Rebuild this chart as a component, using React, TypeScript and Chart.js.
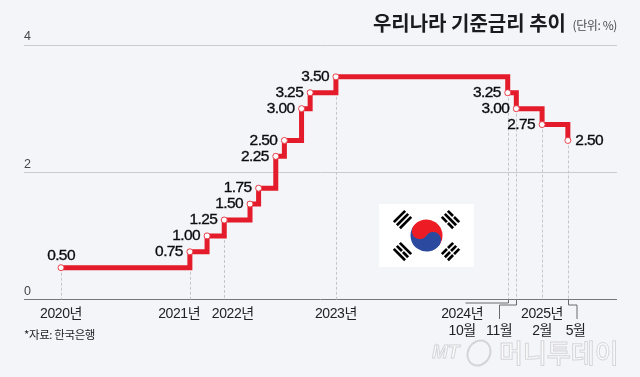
import React, { useEffect, useRef } from "react";
import { Chart, registerables } from "chart.js";

Chart.register(...registerables);

// x is the Bank of Korea rate-meeting number, which is how the picture spaces its points
const meetings = [0, 15, 17, 19, 22, 23, 25, 26, 28, 29, 32, 52, 53, 56, 59];
const rates = [0.5, 0.75, 1.0, 1.25, 1.5, 1.75, 2.25, 2.5, 3.0, 3.25, 3.5, 3.25, 3.0, 2.75, 2.5];
const guideMeetings = [0, 15, 19, 32, 52, 53, 56, 59];
const tickMeetings = [0, 13.75, 20, 32, 46.7, 51, 56, 59.9];
const tickLabels: (string | string[])[] = [
  "2020년", "2021년", "2022년", "2023년",
  ["2024년", "10월"], ["", "11월"], ["2025년", "2월"], ["", "5월"],
];
const yTicks = [0, 2, 4];
const titleText = "우리나라 기준금리 추이";
const unitText = "(단위: %)";
const sourceText = "*자료: 한국은행";
const brandLatin = "MT";
const brandText = "머니투데이";

const LATIN = '"Liberation Sans", "Noto Sans CJK KR", sans-serif';
const KR = '"Noto Sans CJK KR", sans-serif';
const BG = "#f4f5f9";
const RED = "#e31b2a";

function drawFlag(ctx: CanvasRenderingContext2D) {
  const cx = 426.5, cy = 235.5, r = 16;
  ctx.save();
  ctx.fillStyle = "#ffffff";
  ctx.fillRect(379, 204, 95, 63);
  ctx.translate(cx, cy);
  ctx.save();
  ctx.rotate(Math.atan2(2, 3));
  ctx.fillStyle = "#ed1c24";
  ctx.beginPath(); ctx.arc(0, 0, r, Math.PI, 0); ctx.fill();
  ctx.fillStyle = "#2b4a9f";
  ctx.beginPath(); ctx.arc(0, 0, r, 0, Math.PI); ctx.fill();
  ctx.fillStyle = "#ed1c24";
  ctx.beginPath(); ctx.arc(-r / 2, 0, r / 2, 0, Math.PI * 2); ctx.fill();
  ctx.fillStyle = "#2b4a9f";
  ctx.beginPath(); ctx.arc(r / 2, 0, r / 2, 0, Math.PI * 2); ctx.fill();
  ctx.restore();
  ctx.fillStyle = "#000000";
  const trigrams: [number, number, number, boolean[]][] = [
    [-24, -16, -Math.PI / 4, [false, false, false]],
    [24, -16, Math.PI / 4, [true, false, true]],
    [-24, 16, Math.PI / 4, [false, true, false]],
    [24, 16, -Math.PI / 4, [true, true, true]],
  ];
  trigrams.forEach(([dx, dy, angle, broken]) => {
    ctx.save();
    ctx.translate(dx, dy);
    ctx.rotate(angle);
    broken.forEach((b, i) => {
      const y = (i - 1) * 4.3 - 1.3;
      if (b) {
        ctx.fillRect(-8, y, 7.3, 2.7);
        ctx.fillRect(0.7, y, 7.3, 2.7);
      } else {
        ctx.fillRect(-8, y, 16, 2.7);
      }
    });
    ctx.restore();
  });
  ctx.restore();
}

const overlayPlugin = {
  id: "overlay",
  beforeDraw(chart: any) {
    chart.ctx.letterSpacing = "-0.4px";
  },
  beforeDatasetsDraw(chart: any) {
    const { ctx, scales } = chart;
    const { x, y } = scales;
    const axis = y.getPixelForValue(0);
    ctx.save();
    ctx.strokeStyle = "#c4c6cc";
    ctx.lineWidth = 1;
    ctx.setLineDash([3, 2]);
    guideMeetings.forEach((m) => {
      const i = meetings.indexOf(m);
      const px = Math.round(x.getPixelForValue(m)) + 0.5;
      ctx.beginPath();
      ctx.moveTo(px, y.getPixelForValue(rates[i]));
      ctx.lineTo(px, axis);
      ctx.stroke();
    });
    ctx.restore();
  },
  afterDraw(chart: any) {
    const { ctx, scales } = chart;
    const { x, y } = scales;
    const axis = y.getPixelForValue(0);

    // leader lines from the axis to the month labels
    ctx.save();
    ctx.strokeStyle = "#666a70";
    ctx.lineWidth = 1;
    const leader = (m: number, down: number, end: number, drop: number) => {
      const px = Math.round(x.getPixelForValue(m)) + 0.5;
      ctx.beginPath();
      ctx.moveTo(px, axis);
      ctx.lineTo(px, axis + down);
      ctx.lineTo(px + end, axis + down);
      if (drop) ctx.lineTo(px + end, axis + down + drop);
      ctx.stroke();
    };
    leader(52, 3.5, -43, 0);
    leader(53, 5.5, -17, 14);
    leader(59, 5.5, 8.5, 14);
    ctx.restore();

    // value labels
    ctx.save();
    ctx.font = `15.5px ${LATIN}`;
    ctx.letterSpacing = "-0.6px";
    ctx.fillStyle = "#0c0c10";
    ctx.strokeStyle = "#0c0c10";
    ctx.lineWidth = 0.35;
    ctx.textBaseline = "middle";
    meetings.forEach((m, i) => {
      const px = x.getPixelForValue(m);
      const py = y.getPixelForValue(rates[i]);
      const t = rates[i].toFixed(2);
      let tx = px - 7, ty = py;
      ctx.textAlign = "right";
      if (i === 0) { ctx.textAlign = "center"; tx = px; ty = py - 12; }
      if (i === meetings.length - 1) { ctx.textAlign = "left"; tx = px + 7.5; ty = py; }
      ctx.fillText(t, tx, ty);
      ctx.strokeText(t, tx, ty);
    });
    ctx.restore();

    // title, unit, source
    ctx.save();
    ctx.textBaseline = "middle";
    ctx.textAlign = "right";
    ctx.fillStyle = "#1b1b1f";
    ctx.letterSpacing = "0px";
    ctx.font = `700 20px ${KR}`;
    ctx.fillText(titleText, 566, 23);
    ctx.fillStyle = "#47494f";
    ctx.font = `12px ${KR}`;
    ctx.letterSpacing = "-0.4px";
    ctx.fillText(unitText, 617, 25);
    ctx.textAlign = "left";
    ctx.fillStyle = "#222226";
    ctx.font = `11.5px ${KR}`;
    ctx.fillText(sourceText, 24, 335);
    ctx.restore();

    drawFlag(ctx);

    // watermark
    ctx.save();
    ctx.textBaseline = "middle";
    ctx.letterSpacing = "0px";
    ctx.lineWidth = 1;
    ctx.strokeStyle = "#d4d5d9";
    ctx.fillStyle = "#fbfbfc";
    ctx.font = `italic 700 19px ${LATIN}`;
    ctx.textAlign = "left";
    ctx.fillText(brandLatin, 432, 353);
    ctx.strokeText(brandLatin, 432, 353);
    ctx.beginPath();
    ctx.ellipse(479, 353, 11, 13, 0.5, 0, Math.PI * 2);
    ctx.lineWidth = 2;
    ctx.stroke();
    ctx.lineWidth = 1;
    ctx.font = `500 26px ${KR}`;
    ctx.fillText(brandText, 499, 353);
    ctx.strokeText(brandText, 499, 353);
    ctx.restore();
  },
};

export default function App() {
  const ref = useRef<HTMLCanvasElement | null>(null);
  useEffect(() => {
    document.body.style.margin = "0";
    document.body.style.background = BG;
    const chart = new Chart(ref.current as HTMLCanvasElement, {
      type: "line",
      data: {
        datasets: [
          {
            data: meetings.map((m, i) => ({ x: m, y: rates[i] })),
            borderColor: RED,
            borderWidth: 5,
            stepped: "before",
            borderJoinStyle: "miter",
            borderCapStyle: "butt",
            pointRadius: 3,
            pointBorderWidth: 1,
            pointBackgroundColor: "#ffffff",
            pointBorderColor: "#e8414c",
            fill: false,
          },
        ],
      } as any,
      options: {
        animation: false,
        responsive: false,
        layout: { padding: { top: 45, left: 24, right: 23, bottom: 0 } },
        plugins: { legend: { display: false }, tooltip: { enabled: false } },
        scales: {
          x: {
            type: "linear",
            min: -4.31,
            max: 64.72,
            afterBuildTicks: (s: any) => { s.ticks = tickMeetings.map((value) => ({ value })); },
            afterTickToLabelConversion: (s: any) => {
              s.ticks.forEach((t: any, i: number) => { t.label = tickLabels[i]; });
            },
            afterFit: (s: any) => { s.height = 77.5; },
            grid: { display: false },
            border: { display: false },
            ticks: {
              autoSkip: false,
              maxRotation: 0,
              minRotation: 0,
              padding: -2,
              color: "#222226",
              font: { family: LATIN, size: 14, lineHeight: 1.2 },
            },
          },
          y: {
            type: "linear",
            min: 0,
            max: 4,
            afterBuildTicks: (s: any) => { s.ticks = yTicks.map((value) => ({ value })); },
            border: { display: false },
            grid: {
              drawTicks: false,
              color: (c: any) => (c.tick && c.tick.value === 0 ? "#74777c" : "#c8cad4"),
              lineWidth: 1,
            },
            ticks: {
              mirror: true,
              padding: 0,
              labelOffset: -8,
              color: "#44464c",
              font: { family: LATIN, size: 12.5 },
            },
          },
        },
      } as any,
      plugins: [overlayPlugin],
    });
    return () => chart.destroy();
  }, []);
  return (
    <div style={{ width: 640, height: 377, background: BG }}>
      <canvas ref={ref} width={640} height={377} style={{ display: "block" }} />
    </div>
  );
}
